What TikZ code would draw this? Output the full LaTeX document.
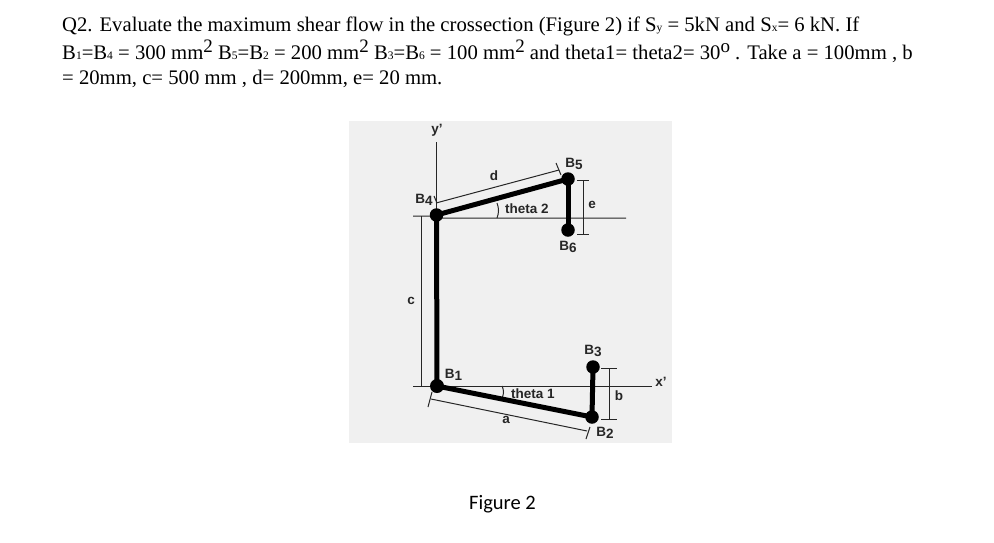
\documentclass[tikz,border=0pt]{standalone}
\usepackage{fontspec}
\setmainfont{Liberation Serif}
\setsansfont{Liberation Sans}
\newfontfamily\capfont{Carlito}
\newcommand{\subsc}[1]{{\fontsize{11.5}{11.5}\selectfont #1}}
\newcommand{\supsc}[1]{\raisebox{6.5pt}{\fontsize{19}{19}\selectfont #1}}
\tikzset{
  x=1pt,y=-1pt,
  bodytext/.style={anchor=base west,inner sep=0pt,font=\fontsize{20.7}{20.7}\selectfont},
  labeltext/.style={inner sep=0pt,font=\sffamily\bfseries\fontsize{13.5}{13.5}\selectfont,text=black!85},
  captiontext/.style={inner sep=0pt,font=\capfont\fontsize{20.5}{20.5}\selectfont},
  boom/.style={circle,fill=black,inner sep=0pt,minimum size=13.5pt},
  wall/.style={line width=5pt},
  thin line/.style={line width=1pt,draw=black!85},
}
\definecolor{panel}{RGB}{240,240,240}
\begin{document}
\begin{tikzpicture}
\useasboundingbox (0,0) rectangle (994,542);
\fill[panel] (349,121) rectangle (672,443);
% text
\node[bodytext] (l1) at (62,31) {Q2. Evaluate the maximum shear flow in the crossection (Figure 2) if S\subsc{y} = 5kN and S\subsc{x}= 6 kN. If};
\node[bodytext] (l2) at (62,59) {B\subsc{1}=B\subsc{4} = 300 mm\supsc{2} B\subsc{5}=B\subsc{2} = 200 mm\supsc{2} B\subsc{3}=B\subsc{6} = 100 mm\supsc{2} and theta1= theta2= 30\supsc{o} . Take a = 100mm , b};
\node[bodytext] (l3) at (62,84) {= 20mm, c= 500 mm , d= 200mm, e= 20 mm.};
\node[captiontext] (cap) at (502.5,504) {Figure 2};
% key points
\coordinate (ytop) at (436,142);
\coordinate (h2l) at (413,216);
\coordinate (h2r) at (626,218);
\coordinate (xl) at (413,386);
\coordinate (xr) at (652,386);
% thin lines
\draw[thin line] (ytop) -- (436,215);
\draw[thin line] (h2l) -- (436,216) -- (440,218) -- (h2r);
\draw[thin line] (xl) -- (xr);
% dimension c
\coordinate (ca) at (421,216);
\coordinate (cb) at (421,386);
\draw[thin line] (ca) -- (cb);
% dimension d
\coordinate (da) at (436,203);
\coordinate (db) at (559,170);
\draw[thin line] (da) -- (db);
\draw[thin line] (556,163) -- (561,175);
\draw[thin line] (434,196) -- (437,203);
% dimension e
\coordinate (ea) at (583,180);
\coordinate (eb) at (583,234);
\draw[thin line] (ea) -- (eb);
\draw[thin line] (577,180) -- (589,180);
\draw[thin line] (577,234) -- (589,234);
% dimension b
\coordinate (ba) at (609,368);
\coordinate (bb) at (609,419);
\draw[thin line] (ba) -- (bb);
\draw[thin line] (601,368) -- (617,368);
\draw[thin line] (601,419) -- (617,419);
% dimension a
\coordinate (aa) at (431,399);
\coordinate (ab) at (587,431);
\draw[thin line] (aa) -- (ab);
\draw[thin line] (432,392) -- (428,407);
\draw[thin line] (590,427) -- (586,439);
% angle arcs
\draw[thin line] (497,203) .. controls (499,208) and (499,213) .. (497,218);
\draw[thin line] (502,386) .. controls (504,390) and (504,394) .. (502,398);
% booms
\node[boom] (B4) at (436.5,215) {};
\node[boom,minimum size=14pt] (B1) at (437,386) {};
\node[boom] (B5) at (568,179) {};
\node[boom] (B6) at (568,230) {};
\node[boom] (B2) at (592,417) {};
\node[boom] (B3) at (593,367) {};
% walls
\draw[wall] (B5.center) -- (B6.center);
\draw[wall] (B5.center) -- (B4.center) -- (B1.center) -- (B2.center);
\draw[wall] (B2.center) -- (B3.center);
% labels
\node[labeltext] (ly) at (437,130) {y'};
\node[labeltext] (lx) at (661,382) {x'};
\node[labeltext] (lB4) at (424,200) {B\raisebox{-1.5pt}{4}};
\node[labeltext] (lB5) at (574,164) {B\raisebox{-1.5pt}{5}};
\node[labeltext] (lB6) at (568,247) {B\raisebox{-1.5pt}{6}};
\node[labeltext] (lB1) at (453.5,375) {B\raisebox{-1.5pt}{1}};
\node[labeltext] (lB3) at (593,351) {B\raisebox{-1.5pt}{3}};
\node[labeltext] (lB2) at (605,433) {B\raisebox{-1.5pt}{2}};
\node[labeltext] (ld) at (494,176) {d};
\node[labeltext] (le) at (592,205) {e};
\node[labeltext] (lc) at (411,301) {c};
\node[labeltext] (lb) at (619,396) {b};
\node[labeltext] (la) at (506,420) {a};
\node[labeltext] (lt2) at (527,209) {theta 2};
\node[labeltext] (lt1) at (533,394) {theta 1};
\end{tikzpicture}
\end{document}
